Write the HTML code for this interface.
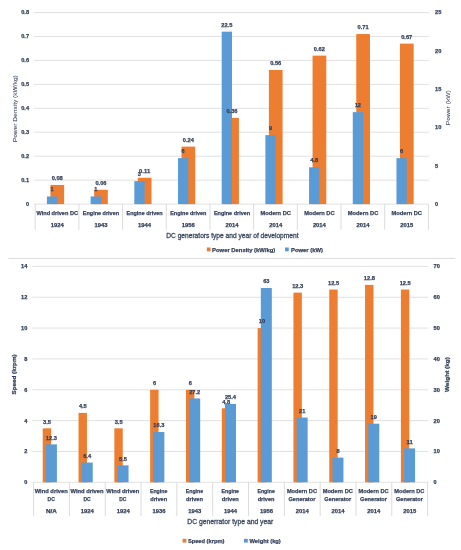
<!DOCTYPE html>
<html><head><meta charset="utf-8"><title>DC generator charts</title>
<style>
html,body{margin:0;padding:0;background:#fff;}
svg{display:block;font-family:"Liberation Sans",sans-serif;}
</style></head>
<body>
<svg width="461" height="550" viewBox="0 0 461 550">
<rect x="0" y="0" width="461" height="550" fill="#ffffff"/>
<g shape-rendering="auto">
<line x1="34.00" y1="204.10" x2="428.90" y2="204.10" stroke="#DCDCDC" stroke-width="0.85"/>
<line x1="34.00" y1="180.15" x2="428.90" y2="180.15" stroke="#DCDCDC" stroke-width="0.85"/>
<line x1="34.00" y1="156.20" x2="428.90" y2="156.20" stroke="#DCDCDC" stroke-width="0.85"/>
<line x1="34.00" y1="132.25" x2="428.90" y2="132.25" stroke="#DCDCDC" stroke-width="0.85"/>
<line x1="34.00" y1="108.30" x2="428.90" y2="108.30" stroke="#DCDCDC" stroke-width="0.85"/>
<line x1="34.00" y1="84.35" x2="428.90" y2="84.35" stroke="#DCDCDC" stroke-width="0.85"/>
<line x1="34.00" y1="60.40" x2="428.90" y2="60.40" stroke="#DCDCDC" stroke-width="0.85"/>
<line x1="34.00" y1="36.45" x2="428.90" y2="36.45" stroke="#DCDCDC" stroke-width="0.85"/>
<line x1="34.00" y1="12.50" x2="428.90" y2="12.50" stroke="#DCDCDC" stroke-width="0.85"/>
<rect x="50.44" y="184.94" width="13.70" height="19.16" fill="#ED7D31"/>
<rect x="46.94" y="196.44" width="10.30" height="7.66" fill="#5B9BD5"/>
<rect x="94.13" y="189.73" width="13.70" height="14.37" fill="#ED7D31"/>
<rect x="90.63" y="196.44" width="10.30" height="7.66" fill="#5B9BD5"/>
<rect x="137.82" y="177.75" width="13.70" height="26.34" fill="#ED7D31"/>
<rect x="134.32" y="181.11" width="10.30" height="22.99" fill="#5B9BD5"/>
<rect x="181.51" y="146.62" width="13.70" height="57.48" fill="#ED7D31"/>
<rect x="178.01" y="158.12" width="10.30" height="45.98" fill="#5B9BD5"/>
<rect x="225.20" y="117.88" width="13.70" height="86.22" fill="#ED7D31"/>
<rect x="221.70" y="31.66" width="10.30" height="172.44" fill="#5B9BD5"/>
<rect x="268.89" y="69.98" width="13.70" height="134.12" fill="#ED7D31"/>
<rect x="265.39" y="135.12" width="10.30" height="68.98" fill="#5B9BD5"/>
<rect x="312.58" y="55.61" width="13.70" height="148.49" fill="#ED7D31"/>
<rect x="309.08" y="167.31" width="10.30" height="36.79" fill="#5B9BD5"/>
<rect x="356.27" y="34.06" width="13.70" height="170.04" fill="#ED7D31"/>
<rect x="352.77" y="112.13" width="10.30" height="91.97" fill="#5B9BD5"/>
<rect x="399.96" y="43.63" width="13.70" height="160.47" fill="#ED7D31"/>
<rect x="396.46" y="158.12" width="10.30" height="45.98" fill="#5B9BD5"/>
<line x1="35.20" y1="204.10" x2="35.20" y2="229.80" stroke="#DCDCDC" stroke-width="1"/>
<line x1="78.89" y1="204.10" x2="78.89" y2="229.80" stroke="#DCDCDC" stroke-width="1"/>
<line x1="122.58" y1="204.10" x2="122.58" y2="229.80" stroke="#DCDCDC" stroke-width="1"/>
<line x1="166.27" y1="204.10" x2="166.27" y2="229.80" stroke="#DCDCDC" stroke-width="1"/>
<line x1="209.96" y1="204.10" x2="209.96" y2="229.80" stroke="#DCDCDC" stroke-width="1"/>
<line x1="253.64" y1="204.10" x2="253.64" y2="229.80" stroke="#DCDCDC" stroke-width="1"/>
<line x1="297.33" y1="204.10" x2="297.33" y2="229.80" stroke="#DCDCDC" stroke-width="1"/>
<line x1="341.02" y1="204.10" x2="341.02" y2="229.80" stroke="#DCDCDC" stroke-width="1"/>
<line x1="384.71" y1="204.10" x2="384.71" y2="229.80" stroke="#DCDCDC" stroke-width="1"/>
<line x1="428.40" y1="204.10" x2="428.40" y2="229.80" stroke="#DCDCDC" stroke-width="1"/>
<rect x="206.80" y="247.50" width="3.80" height="3.80" fill="#ED7D31"/>
<rect x="285.00" y="247.50" width="3.80" height="3.80" fill="#5B9BD5"/>
<line x1="8.30" y1="258.40" x2="455.40" y2="258.40" stroke="#DCDCDC" stroke-width="1"/>
<line x1="32.40" y1="482.30" x2="428.10" y2="482.30" stroke="#DCDCDC" stroke-width="0.85"/>
<line x1="32.40" y1="451.46" x2="428.10" y2="451.46" stroke="#DCDCDC" stroke-width="0.85"/>
<line x1="32.40" y1="420.61" x2="428.10" y2="420.61" stroke="#DCDCDC" stroke-width="0.85"/>
<line x1="32.40" y1="389.77" x2="428.10" y2="389.77" stroke="#DCDCDC" stroke-width="0.85"/>
<line x1="32.40" y1="358.93" x2="428.10" y2="358.93" stroke="#DCDCDC" stroke-width="0.85"/>
<line x1="32.40" y1="328.09" x2="428.10" y2="328.09" stroke="#DCDCDC" stroke-width="0.85"/>
<line x1="32.40" y1="297.24" x2="428.10" y2="297.24" stroke="#DCDCDC" stroke-width="0.85"/>
<line x1="32.40" y1="266.40" x2="428.10" y2="266.40" stroke="#DCDCDC" stroke-width="0.85"/>
<rect x="42.71" y="428.32" width="8.40" height="53.98" fill="#ED7D31"/>
<rect x="45.91" y="444.36" width="11.00" height="37.94" fill="#5B9BD5"/>
<rect x="78.53" y="412.90" width="8.40" height="69.40" fill="#ED7D31"/>
<rect x="81.73" y="462.56" width="11.00" height="19.74" fill="#5B9BD5"/>
<rect x="114.35" y="428.32" width="8.40" height="53.98" fill="#ED7D31"/>
<rect x="117.55" y="465.34" width="11.00" height="16.96" fill="#5B9BD5"/>
<rect x="150.16" y="389.77" width="8.40" height="92.53" fill="#ED7D31"/>
<rect x="153.36" y="432.03" width="11.00" height="50.27" fill="#5B9BD5"/>
<rect x="185.98" y="389.77" width="8.40" height="92.53" fill="#ED7D31"/>
<rect x="189.18" y="398.41" width="11.00" height="83.89" fill="#5B9BD5"/>
<rect x="221.80" y="408.28" width="8.40" height="74.02" fill="#ED7D31"/>
<rect x="225.00" y="403.96" width="11.00" height="78.34" fill="#5B9BD5"/>
<rect x="257.62" y="328.09" width="8.40" height="154.21" fill="#ED7D31"/>
<rect x="260.82" y="287.99" width="11.00" height="194.31" fill="#5B9BD5"/>
<rect x="293.44" y="292.62" width="8.40" height="189.68" fill="#ED7D31"/>
<rect x="296.64" y="417.53" width="11.00" height="64.77" fill="#5B9BD5"/>
<rect x="329.25" y="289.53" width="8.40" height="192.77" fill="#ED7D31"/>
<rect x="332.45" y="457.63" width="11.00" height="24.67" fill="#5B9BD5"/>
<rect x="365.07" y="284.91" width="8.40" height="197.39" fill="#ED7D31"/>
<rect x="368.27" y="423.70" width="11.00" height="58.60" fill="#5B9BD5"/>
<rect x="400.89" y="289.53" width="8.40" height="192.77" fill="#ED7D31"/>
<rect x="404.09" y="448.37" width="11.00" height="33.93" fill="#5B9BD5"/>
<line x1="33.60" y1="482.30" x2="33.60" y2="516.00" stroke="#DCDCDC" stroke-width="1"/>
<line x1="69.42" y1="482.30" x2="69.42" y2="516.00" stroke="#DCDCDC" stroke-width="1"/>
<line x1="105.24" y1="482.30" x2="105.24" y2="516.00" stroke="#DCDCDC" stroke-width="1"/>
<line x1="141.05" y1="482.30" x2="141.05" y2="516.00" stroke="#DCDCDC" stroke-width="1"/>
<line x1="176.87" y1="482.30" x2="176.87" y2="516.00" stroke="#DCDCDC" stroke-width="1"/>
<line x1="212.69" y1="482.30" x2="212.69" y2="516.00" stroke="#DCDCDC" stroke-width="1"/>
<line x1="248.51" y1="482.30" x2="248.51" y2="516.00" stroke="#DCDCDC" stroke-width="1"/>
<line x1="284.33" y1="482.30" x2="284.33" y2="516.00" stroke="#DCDCDC" stroke-width="1"/>
<line x1="320.15" y1="482.30" x2="320.15" y2="516.00" stroke="#DCDCDC" stroke-width="1"/>
<line x1="355.96" y1="482.30" x2="355.96" y2="516.00" stroke="#DCDCDC" stroke-width="1"/>
<line x1="391.78" y1="482.30" x2="391.78" y2="516.00" stroke="#DCDCDC" stroke-width="1"/>
<line x1="427.60" y1="482.30" x2="427.60" y2="516.00" stroke="#DCDCDC" stroke-width="1"/>
<rect x="182.60" y="538.80" width="3.80" height="3.80" fill="#ED7D31"/>
<rect x="244.00" y="538.80" width="3.80" height="3.80" fill="#5B9BD5"/>
</g>
<defs><filter id="soft" x="-5%" y="-5%" width="110%" height="110%"><feGaussianBlur stdDeviation="0.3"/></filter></defs>
<g filter="url(#soft)">
<text x="29.10" y="206.09" font-size="5.8" text-anchor="end" font-weight="bold" stroke="#333F58" stroke-width="0.25" textLength="3.1" lengthAdjust="spacingAndGlyphs" fill="#333F58">0</text>
<text x="29.10" y="182.14" font-size="5.8" text-anchor="end" font-weight="bold" stroke="#333F58" stroke-width="0.25" textLength="7.9" lengthAdjust="spacingAndGlyphs" fill="#333F58">0.1</text>
<text x="29.10" y="158.19" font-size="5.8" text-anchor="end" font-weight="bold" stroke="#333F58" stroke-width="0.25" textLength="7.9" lengthAdjust="spacingAndGlyphs" fill="#333F58">0.2</text>
<text x="29.10" y="134.24" font-size="5.8" text-anchor="end" font-weight="bold" stroke="#333F58" stroke-width="0.25" textLength="7.9" lengthAdjust="spacingAndGlyphs" fill="#333F58">0.3</text>
<text x="29.10" y="110.29" font-size="5.8" text-anchor="end" font-weight="bold" stroke="#333F58" stroke-width="0.25" textLength="7.9" lengthAdjust="spacingAndGlyphs" fill="#333F58">0.4</text>
<text x="29.10" y="86.34" font-size="5.8" text-anchor="end" font-weight="bold" stroke="#333F58" stroke-width="0.25" textLength="7.9" lengthAdjust="spacingAndGlyphs" fill="#333F58">0.5</text>
<text x="29.10" y="62.39" font-size="5.8" text-anchor="end" font-weight="bold" stroke="#333F58" stroke-width="0.25" textLength="7.9" lengthAdjust="spacingAndGlyphs" fill="#333F58">0.6</text>
<text x="29.10" y="38.44" font-size="5.8" text-anchor="end" font-weight="bold" stroke="#333F58" stroke-width="0.25" textLength="7.9" lengthAdjust="spacingAndGlyphs" fill="#333F58">0.7</text>
<text x="29.10" y="14.49" font-size="5.8" text-anchor="end" font-weight="bold" stroke="#333F58" stroke-width="0.25" textLength="7.9" lengthAdjust="spacingAndGlyphs" fill="#333F58">0.8</text>
<text x="435.00" y="205.99" font-size="5.8" text-anchor="start" font-weight="bold" stroke="#333F58" stroke-width="0.25" textLength="3.1" lengthAdjust="spacingAndGlyphs" fill="#333F58">0</text>
<text x="435.00" y="167.67" font-size="5.8" text-anchor="start" font-weight="bold" stroke="#333F58" stroke-width="0.25" textLength="3.1" lengthAdjust="spacingAndGlyphs" fill="#333F58">5</text>
<text x="435.00" y="129.35" font-size="5.8" text-anchor="start" font-weight="bold" stroke="#333F58" stroke-width="0.25" textLength="6.3" lengthAdjust="spacingAndGlyphs" fill="#333F58">10</text>
<text x="435.00" y="91.03" font-size="5.8" text-anchor="start" font-weight="bold" stroke="#333F58" stroke-width="0.25" textLength="6.3" lengthAdjust="spacingAndGlyphs" fill="#333F58">15</text>
<text x="435.00" y="52.71" font-size="5.8" text-anchor="start" font-weight="bold" stroke="#333F58" stroke-width="0.25" textLength="6.3" lengthAdjust="spacingAndGlyphs" fill="#333F58">20</text>
<text x="435.00" y="14.39" font-size="5.8" text-anchor="start" font-weight="bold" stroke="#333F58" stroke-width="0.25" textLength="6.3" lengthAdjust="spacingAndGlyphs" fill="#333F58">25</text>
<text x="57.24" y="180.03" font-size="5.8" text-anchor="middle" font-weight="bold" stroke="#333F58" stroke-width="0.25" textLength="11.1" lengthAdjust="spacingAndGlyphs" fill="#333F58">0.08</text>
<text x="52.04" y="191.32" font-size="5.8" text-anchor="middle" font-weight="bold" stroke="#333F58" stroke-width="0.25" textLength="3.1" lengthAdjust="spacingAndGlyphs" fill="#333F58">1</text>
<text x="57.24" y="214.76" font-size="6.0" text-anchor="middle" font-weight="bold" stroke="#333F58" stroke-width="0.25" textLength="41.5" lengthAdjust="spacingAndGlyphs" fill="#333F58">Wind driven DC</text>
<text x="57.24" y="227.22" font-size="5.9" text-anchor="middle" font-weight="bold" stroke="#333F58" stroke-width="0.25" textLength="13.0" lengthAdjust="spacingAndGlyphs" fill="#333F58">1924</text>
<text x="100.93" y="184.82" font-size="5.8" text-anchor="middle" font-weight="bold" stroke="#333F58" stroke-width="0.25" textLength="11.1" lengthAdjust="spacingAndGlyphs" fill="#333F58">0.06</text>
<text x="95.73" y="191.32" font-size="5.8" text-anchor="middle" font-weight="bold" stroke="#333F58" stroke-width="0.25" textLength="3.1" lengthAdjust="spacingAndGlyphs" fill="#333F58">1</text>
<text x="100.93" y="214.76" font-size="6.0" text-anchor="middle" font-weight="bold" stroke="#333F58" stroke-width="0.25" textLength="36.2" lengthAdjust="spacingAndGlyphs" fill="#333F58">Engine driven</text>
<text x="100.93" y="227.22" font-size="5.9" text-anchor="middle" font-weight="bold" stroke="#333F58" stroke-width="0.25" textLength="13.0" lengthAdjust="spacingAndGlyphs" fill="#333F58">1943</text>
<text x="144.62" y="172.84" font-size="5.8" text-anchor="middle" font-weight="bold" stroke="#333F58" stroke-width="0.25" textLength="11.1" lengthAdjust="spacingAndGlyphs" fill="#333F58">0.11</text>
<text x="139.42" y="176.00" font-size="5.8" text-anchor="middle" font-weight="bold" stroke="#333F58" stroke-width="0.25" textLength="3.1" lengthAdjust="spacingAndGlyphs" fill="#333F58">3</text>
<text x="144.62" y="214.76" font-size="6.0" text-anchor="middle" font-weight="bold" stroke="#333F58" stroke-width="0.25" textLength="36.2" lengthAdjust="spacingAndGlyphs" fill="#333F58">Engine driven</text>
<text x="144.62" y="227.22" font-size="5.9" text-anchor="middle" font-weight="bold" stroke="#333F58" stroke-width="0.25" textLength="13.0" lengthAdjust="spacingAndGlyphs" fill="#333F58">1944</text>
<text x="188.31" y="141.71" font-size="5.8" text-anchor="middle" font-weight="bold" stroke="#333F58" stroke-width="0.25" textLength="11.1" lengthAdjust="spacingAndGlyphs" fill="#333F58">0.24</text>
<text x="183.11" y="153.00" font-size="5.8" text-anchor="middle" font-weight="bold" stroke="#333F58" stroke-width="0.25" textLength="3.1" lengthAdjust="spacingAndGlyphs" fill="#333F58">6</text>
<text x="188.31" y="214.76" font-size="6.0" text-anchor="middle" font-weight="bold" stroke="#333F58" stroke-width="0.25" textLength="36.2" lengthAdjust="spacingAndGlyphs" fill="#333F58">Engine driven</text>
<text x="188.31" y="227.22" font-size="5.9" text-anchor="middle" font-weight="bold" stroke="#333F58" stroke-width="0.25" textLength="13.0" lengthAdjust="spacingAndGlyphs" fill="#333F58">1956</text>
<text x="232.00" y="112.97" font-size="5.8" text-anchor="middle" font-weight="bold" stroke="#333F58" stroke-width="0.25" textLength="11.1" lengthAdjust="spacingAndGlyphs" fill="#333F58">0.36</text>
<text x="226.80" y="26.55" font-size="5.8" text-anchor="middle" font-weight="bold" stroke="#333F58" stroke-width="0.25" textLength="11.1" lengthAdjust="spacingAndGlyphs" fill="#333F58">22.5</text>
<text x="232.00" y="214.76" font-size="6.0" text-anchor="middle" font-weight="bold" stroke="#333F58" stroke-width="0.25" textLength="36.2" lengthAdjust="spacingAndGlyphs" fill="#333F58">Engine driven</text>
<text x="232.00" y="227.22" font-size="5.9" text-anchor="middle" font-weight="bold" stroke="#333F58" stroke-width="0.25" textLength="13.0" lengthAdjust="spacingAndGlyphs" fill="#333F58">2014</text>
<text x="275.69" y="65.07" font-size="5.8" text-anchor="middle" font-weight="bold" stroke="#333F58" stroke-width="0.25" textLength="11.1" lengthAdjust="spacingAndGlyphs" fill="#333F58">0.56</text>
<text x="270.49" y="130.01" font-size="5.8" text-anchor="middle" font-weight="bold" stroke="#333F58" stroke-width="0.25" textLength="3.1" lengthAdjust="spacingAndGlyphs" fill="#333F58">9</text>
<text x="275.69" y="214.76" font-size="6.0" text-anchor="middle" font-weight="bold" stroke="#333F58" stroke-width="0.25" textLength="30.4" lengthAdjust="spacingAndGlyphs" fill="#333F58">Modern DC</text>
<text x="275.69" y="227.22" font-size="5.9" text-anchor="middle" font-weight="bold" stroke="#333F58" stroke-width="0.25" textLength="13.0" lengthAdjust="spacingAndGlyphs" fill="#333F58">2014</text>
<text x="319.38" y="50.70" font-size="5.8" text-anchor="middle" font-weight="bold" stroke="#333F58" stroke-width="0.25" textLength="11.1" lengthAdjust="spacingAndGlyphs" fill="#333F58">0.62</text>
<text x="314.18" y="162.20" font-size="5.8" text-anchor="middle" font-weight="bold" stroke="#333F58" stroke-width="0.25" textLength="7.9" lengthAdjust="spacingAndGlyphs" fill="#333F58">4.8</text>
<text x="319.38" y="214.76" font-size="6.0" text-anchor="middle" font-weight="bold" stroke="#333F58" stroke-width="0.25" textLength="30.4" lengthAdjust="spacingAndGlyphs" fill="#333F58">Modern DC</text>
<text x="319.38" y="227.22" font-size="5.9" text-anchor="middle" font-weight="bold" stroke="#333F58" stroke-width="0.25" textLength="13.0" lengthAdjust="spacingAndGlyphs" fill="#333F58">2014</text>
<text x="363.07" y="29.14" font-size="5.8" text-anchor="middle" font-weight="bold" stroke="#333F58" stroke-width="0.25" textLength="11.1" lengthAdjust="spacingAndGlyphs" fill="#333F58">0.71</text>
<text x="357.87" y="107.02" font-size="5.8" text-anchor="middle" font-weight="bold" stroke="#333F58" stroke-width="0.25" textLength="6.3" lengthAdjust="spacingAndGlyphs" fill="#333F58">12</text>
<text x="363.07" y="214.76" font-size="6.0" text-anchor="middle" font-weight="bold" stroke="#333F58" stroke-width="0.25" textLength="30.4" lengthAdjust="spacingAndGlyphs" fill="#333F58">Modern DC</text>
<text x="363.07" y="227.22" font-size="5.9" text-anchor="middle" font-weight="bold" stroke="#333F58" stroke-width="0.25" textLength="13.0" lengthAdjust="spacingAndGlyphs" fill="#333F58">2014</text>
<text x="406.76" y="38.72" font-size="5.8" text-anchor="middle" font-weight="bold" stroke="#333F58" stroke-width="0.25" textLength="11.1" lengthAdjust="spacingAndGlyphs" fill="#333F58">0.67</text>
<text x="401.56" y="153.00" font-size="5.8" text-anchor="middle" font-weight="bold" stroke="#333F58" stroke-width="0.25" textLength="3.1" lengthAdjust="spacingAndGlyphs" fill="#333F58">6</text>
<text x="406.76" y="214.76" font-size="6.0" text-anchor="middle" font-weight="bold" stroke="#333F58" stroke-width="0.25" textLength="30.4" lengthAdjust="spacingAndGlyphs" fill="#333F58">Modern DC</text>
<text x="406.76" y="227.22" font-size="5.9" text-anchor="middle" font-weight="bold" stroke="#333F58" stroke-width="0.25" textLength="13.0" lengthAdjust="spacingAndGlyphs" fill="#333F58">2015</text>
<text x="232.40" y="237.61" font-size="6.7" text-anchor="middle" stroke="#3A465E" stroke-width="0.28" textLength="132.3" lengthAdjust="spacingAndGlyphs" fill="#3A465E">DC generators type and year of development</text>
<text x="212.10" y="251.56" font-size="6.0" text-anchor="start" font-weight="bold" stroke="#333F58" stroke-width="0.25" textLength="63.2" lengthAdjust="spacingAndGlyphs" fill="#333F58">Power Density (kW/kg)</text>
<text x="291.00" y="251.56" font-size="6.0" text-anchor="start" font-weight="bold" stroke="#333F58" stroke-width="0.25" textLength="32.0" lengthAdjust="spacingAndGlyphs" fill="#333F58">Power (kW)</text>
<text transform="translate(14.30,108.70) rotate(-90)" x="0" y="2.23" font-size="6.2" text-anchor="middle" stroke="#4A5468" stroke-width="0.1" textLength="67.0" lengthAdjust="spacingAndGlyphs" fill="#4A5468">Power Density (kW/kg)</text>
<text transform="translate(448.10,107.70) rotate(-90)" x="0" y="2.23" font-size="6.2" text-anchor="middle" stroke="#4A5468" stroke-width="0.1" textLength="35.0" lengthAdjust="spacingAndGlyphs" fill="#4A5468">Power (kW)</text>
<text x="27.40" y="484.25" font-size="5.7" text-anchor="end" font-weight="bold" stroke="#333F58" stroke-width="0.25" textLength="3.1" lengthAdjust="spacingAndGlyphs" fill="#333F58">0</text>
<text x="433.60" y="484.25" font-size="5.7" text-anchor="start" font-weight="bold" stroke="#333F58" stroke-width="0.25" textLength="3.1" lengthAdjust="spacingAndGlyphs" fill="#333F58">0</text>
<text x="27.40" y="453.41" font-size="5.7" text-anchor="end" font-weight="bold" stroke="#333F58" stroke-width="0.25" textLength="3.1" lengthAdjust="spacingAndGlyphs" fill="#333F58">2</text>
<text x="433.60" y="453.41" font-size="5.7" text-anchor="start" font-weight="bold" stroke="#333F58" stroke-width="0.25" textLength="6.3" lengthAdjust="spacingAndGlyphs" fill="#333F58">10</text>
<text x="27.40" y="422.57" font-size="5.7" text-anchor="end" font-weight="bold" stroke="#333F58" stroke-width="0.25" textLength="3.1" lengthAdjust="spacingAndGlyphs" fill="#333F58">4</text>
<text x="433.60" y="422.57" font-size="5.7" text-anchor="start" font-weight="bold" stroke="#333F58" stroke-width="0.25" textLength="6.3" lengthAdjust="spacingAndGlyphs" fill="#333F58">20</text>
<text x="27.40" y="391.72" font-size="5.7" text-anchor="end" font-weight="bold" stroke="#333F58" stroke-width="0.25" textLength="3.1" lengthAdjust="spacingAndGlyphs" fill="#333F58">6</text>
<text x="433.60" y="391.72" font-size="5.7" text-anchor="start" font-weight="bold" stroke="#333F58" stroke-width="0.25" textLength="6.3" lengthAdjust="spacingAndGlyphs" fill="#333F58">30</text>
<text x="27.40" y="360.88" font-size="5.7" text-anchor="end" font-weight="bold" stroke="#333F58" stroke-width="0.25" textLength="3.1" lengthAdjust="spacingAndGlyphs" fill="#333F58">8</text>
<text x="433.60" y="360.88" font-size="5.7" text-anchor="start" font-weight="bold" stroke="#333F58" stroke-width="0.25" textLength="6.3" lengthAdjust="spacingAndGlyphs" fill="#333F58">40</text>
<text x="27.40" y="330.04" font-size="5.7" text-anchor="end" font-weight="bold" stroke="#333F58" stroke-width="0.25" textLength="6.3" lengthAdjust="spacingAndGlyphs" fill="#333F58">10</text>
<text x="433.60" y="330.04" font-size="5.7" text-anchor="start" font-weight="bold" stroke="#333F58" stroke-width="0.25" textLength="6.3" lengthAdjust="spacingAndGlyphs" fill="#333F58">50</text>
<text x="27.40" y="299.19" font-size="5.7" text-anchor="end" font-weight="bold" stroke="#333F58" stroke-width="0.25" textLength="6.3" lengthAdjust="spacingAndGlyphs" fill="#333F58">12</text>
<text x="433.60" y="299.19" font-size="5.7" text-anchor="start" font-weight="bold" stroke="#333F58" stroke-width="0.25" textLength="6.3" lengthAdjust="spacingAndGlyphs" fill="#333F58">60</text>
<text x="27.40" y="268.35" font-size="5.7" text-anchor="end" font-weight="bold" stroke="#333F58" stroke-width="0.25" textLength="6.3" lengthAdjust="spacingAndGlyphs" fill="#333F58">14</text>
<text x="433.60" y="268.35" font-size="5.7" text-anchor="start" font-weight="bold" stroke="#333F58" stroke-width="0.25" textLength="6.3" lengthAdjust="spacingAndGlyphs" fill="#333F58">70</text>
<text x="47.01" y="423.61" font-size="5.8" text-anchor="middle" font-weight="bold" stroke="#333F58" stroke-width="0.25" textLength="7.9" lengthAdjust="spacingAndGlyphs" fill="#333F58">3.5</text>
<text x="51.41" y="439.75" font-size="5.8" text-anchor="middle" font-weight="bold" stroke="#333F58" stroke-width="0.25" textLength="11.1" lengthAdjust="spacingAndGlyphs" fill="#333F58">12.3</text>
<text x="51.21" y="492.96" font-size="6.0" text-anchor="middle" font-weight="bold" stroke="#333F58" stroke-width="0.25" textLength="33.0" lengthAdjust="spacingAndGlyphs" fill="#333F58">Wind driven</text>
<text x="51.21" y="501.16" font-size="6.0" text-anchor="middle" font-weight="bold" stroke="#333F58" stroke-width="0.25" textLength="7.2" lengthAdjust="spacingAndGlyphs" fill="#333F58">DC</text>
<text x="51.51" y="513.22" font-size="5.9" text-anchor="middle" font-weight="bold" stroke="#333F58" stroke-width="0.25" textLength="10.9" lengthAdjust="spacingAndGlyphs" fill="#333F58">N/A</text>
<text x="82.83" y="408.19" font-size="5.8" text-anchor="middle" font-weight="bold" stroke="#333F58" stroke-width="0.25" textLength="7.9" lengthAdjust="spacingAndGlyphs" fill="#333F58">4.5</text>
<text x="87.23" y="457.95" font-size="5.8" text-anchor="middle" font-weight="bold" stroke="#333F58" stroke-width="0.25" textLength="7.9" lengthAdjust="spacingAndGlyphs" fill="#333F58">6.4</text>
<text x="87.03" y="492.96" font-size="6.0" text-anchor="middle" font-weight="bold" stroke="#333F58" stroke-width="0.25" textLength="33.0" lengthAdjust="spacingAndGlyphs" fill="#333F58">Wind driven</text>
<text x="87.03" y="501.16" font-size="6.0" text-anchor="middle" font-weight="bold" stroke="#333F58" stroke-width="0.25" textLength="7.2" lengthAdjust="spacingAndGlyphs" fill="#333F58">DC</text>
<text x="87.33" y="513.22" font-size="5.9" text-anchor="middle" font-weight="bold" stroke="#333F58" stroke-width="0.25" textLength="13.0" lengthAdjust="spacingAndGlyphs" fill="#333F58">1924</text>
<text x="118.65" y="423.61" font-size="5.8" text-anchor="middle" font-weight="bold" stroke="#333F58" stroke-width="0.25" textLength="7.9" lengthAdjust="spacingAndGlyphs" fill="#333F58">3.5</text>
<text x="123.05" y="460.72" font-size="5.8" text-anchor="middle" font-weight="bold" stroke="#333F58" stroke-width="0.25" textLength="7.9" lengthAdjust="spacingAndGlyphs" fill="#333F58">5.5</text>
<text x="122.85" y="492.96" font-size="6.0" text-anchor="middle" font-weight="bold" stroke="#333F58" stroke-width="0.25" textLength="33.0" lengthAdjust="spacingAndGlyphs" fill="#333F58">Wind driven</text>
<text x="122.85" y="501.16" font-size="6.0" text-anchor="middle" font-weight="bold" stroke="#333F58" stroke-width="0.25" textLength="7.2" lengthAdjust="spacingAndGlyphs" fill="#333F58">DC</text>
<text x="123.15" y="513.22" font-size="5.9" text-anchor="middle" font-weight="bold" stroke="#333F58" stroke-width="0.25" textLength="13.0" lengthAdjust="spacingAndGlyphs" fill="#333F58">1924</text>
<text x="154.46" y="385.06" font-size="5.8" text-anchor="middle" font-weight="bold" stroke="#333F58" stroke-width="0.25" textLength="3.1" lengthAdjust="spacingAndGlyphs" fill="#333F58">6</text>
<text x="158.86" y="427.41" font-size="5.8" text-anchor="middle" font-weight="bold" stroke="#333F58" stroke-width="0.25" textLength="11.1" lengthAdjust="spacingAndGlyphs" fill="#333F58">16.3</text>
<text x="158.66" y="492.96" font-size="6.0" text-anchor="middle" font-weight="bold" stroke="#333F58" stroke-width="0.25" textLength="17.4" lengthAdjust="spacingAndGlyphs" fill="#333F58">Engine</text>
<text x="158.66" y="501.16" font-size="6.0" text-anchor="middle" font-weight="bold" stroke="#333F58" stroke-width="0.25" textLength="16.9" lengthAdjust="spacingAndGlyphs" fill="#333F58">driven</text>
<text x="158.96" y="513.22" font-size="5.9" text-anchor="middle" font-weight="bold" stroke="#333F58" stroke-width="0.25" textLength="13.0" lengthAdjust="spacingAndGlyphs" fill="#333F58">1936</text>
<text x="190.28" y="385.06" font-size="5.8" text-anchor="middle" font-weight="bold" stroke="#333F58" stroke-width="0.25" textLength="3.1" lengthAdjust="spacingAndGlyphs" fill="#333F58">6</text>
<text x="194.68" y="393.80" font-size="5.8" text-anchor="middle" font-weight="bold" stroke="#333F58" stroke-width="0.25" textLength="11.1" lengthAdjust="spacingAndGlyphs" fill="#333F58">27.2</text>
<text x="194.48" y="492.96" font-size="6.0" text-anchor="middle" font-weight="bold" stroke="#333F58" stroke-width="0.25" textLength="17.4" lengthAdjust="spacingAndGlyphs" fill="#333F58">Engine</text>
<text x="194.48" y="501.16" font-size="6.0" text-anchor="middle" font-weight="bold" stroke="#333F58" stroke-width="0.25" textLength="16.9" lengthAdjust="spacingAndGlyphs" fill="#333F58">driven</text>
<text x="194.78" y="513.22" font-size="5.9" text-anchor="middle" font-weight="bold" stroke="#333F58" stroke-width="0.25" textLength="13.0" lengthAdjust="spacingAndGlyphs" fill="#333F58">1943</text>
<text x="226.10" y="403.57" font-size="5.8" text-anchor="middle" font-weight="bold" stroke="#333F58" stroke-width="0.25" textLength="7.9" lengthAdjust="spacingAndGlyphs" fill="#333F58">4.8</text>
<text x="230.50" y="399.35" font-size="5.8" text-anchor="middle" font-weight="bold" stroke="#333F58" stroke-width="0.25" textLength="11.1" lengthAdjust="spacingAndGlyphs" fill="#333F58">25.4</text>
<text x="230.30" y="492.96" font-size="6.0" text-anchor="middle" font-weight="bold" stroke="#333F58" stroke-width="0.25" textLength="17.4" lengthAdjust="spacingAndGlyphs" fill="#333F58">Engine</text>
<text x="230.30" y="501.16" font-size="6.0" text-anchor="middle" font-weight="bold" stroke="#333F58" stroke-width="0.25" textLength="16.9" lengthAdjust="spacingAndGlyphs" fill="#333F58">driven</text>
<text x="230.60" y="513.22" font-size="5.9" text-anchor="middle" font-weight="bold" stroke="#333F58" stroke-width="0.25" textLength="13.0" lengthAdjust="spacingAndGlyphs" fill="#333F58">1944</text>
<text x="261.92" y="323.37" font-size="5.8" text-anchor="middle" font-weight="bold" stroke="#333F58" stroke-width="0.25" textLength="6.3" lengthAdjust="spacingAndGlyphs" fill="#333F58">10</text>
<text x="266.32" y="283.38" font-size="5.8" text-anchor="middle" font-weight="bold" stroke="#333F58" stroke-width="0.25" textLength="6.3" lengthAdjust="spacingAndGlyphs" fill="#333F58">63</text>
<text x="266.12" y="492.96" font-size="6.0" text-anchor="middle" font-weight="bold" stroke="#333F58" stroke-width="0.25" textLength="17.4" lengthAdjust="spacingAndGlyphs" fill="#333F58">Engine</text>
<text x="266.12" y="501.16" font-size="6.0" text-anchor="middle" font-weight="bold" stroke="#333F58" stroke-width="0.25" textLength="16.9" lengthAdjust="spacingAndGlyphs" fill="#333F58">driven</text>
<text x="266.42" y="513.22" font-size="5.9" text-anchor="middle" font-weight="bold" stroke="#333F58" stroke-width="0.25" textLength="13.0" lengthAdjust="spacingAndGlyphs" fill="#333F58">1956</text>
<text x="297.74" y="287.90" font-size="5.8" text-anchor="middle" font-weight="bold" stroke="#333F58" stroke-width="0.25" textLength="11.1" lengthAdjust="spacingAndGlyphs" fill="#333F58">12.3</text>
<text x="302.14" y="412.92" font-size="5.8" text-anchor="middle" font-weight="bold" stroke="#333F58" stroke-width="0.25" textLength="6.3" lengthAdjust="spacingAndGlyphs" fill="#333F58">21</text>
<text x="301.94" y="492.96" font-size="6.0" text-anchor="middle" font-weight="bold" stroke="#333F58" stroke-width="0.25" textLength="30.1" lengthAdjust="spacingAndGlyphs" fill="#333F58">Modern DC</text>
<text x="301.94" y="501.16" font-size="6.0" text-anchor="middle" font-weight="bold" stroke="#333F58" stroke-width="0.25" textLength="26.9" lengthAdjust="spacingAndGlyphs" fill="#333F58">Generator</text>
<text x="302.24" y="513.22" font-size="5.9" text-anchor="middle" font-weight="bold" stroke="#333F58" stroke-width="0.25" textLength="13.0" lengthAdjust="spacingAndGlyphs" fill="#333F58">2014</text>
<text x="333.55" y="284.82" font-size="5.8" text-anchor="middle" font-weight="bold" stroke="#333F58" stroke-width="0.25" textLength="11.1" lengthAdjust="spacingAndGlyphs" fill="#333F58">12.5</text>
<text x="337.95" y="453.01" font-size="5.8" text-anchor="middle" font-weight="bold" stroke="#333F58" stroke-width="0.25" textLength="3.1" lengthAdjust="spacingAndGlyphs" fill="#333F58">8</text>
<text x="337.75" y="492.96" font-size="6.0" text-anchor="middle" font-weight="bold" stroke="#333F58" stroke-width="0.25" textLength="30.1" lengthAdjust="spacingAndGlyphs" fill="#333F58">Modern DC</text>
<text x="337.75" y="501.16" font-size="6.0" text-anchor="middle" font-weight="bold" stroke="#333F58" stroke-width="0.25" textLength="26.9" lengthAdjust="spacingAndGlyphs" fill="#333F58">Generator</text>
<text x="338.05" y="513.22" font-size="5.9" text-anchor="middle" font-weight="bold" stroke="#333F58" stroke-width="0.25" textLength="13.0" lengthAdjust="spacingAndGlyphs" fill="#333F58">2014</text>
<text x="369.37" y="280.19" font-size="5.8" text-anchor="middle" font-weight="bold" stroke="#333F58" stroke-width="0.25" textLength="11.1" lengthAdjust="spacingAndGlyphs" fill="#333F58">12.8</text>
<text x="373.77" y="419.09" font-size="5.8" text-anchor="middle" font-weight="bold" stroke="#333F58" stroke-width="0.25" textLength="6.3" lengthAdjust="spacingAndGlyphs" fill="#333F58">19</text>
<text x="373.57" y="492.96" font-size="6.0" text-anchor="middle" font-weight="bold" stroke="#333F58" stroke-width="0.25" textLength="30.1" lengthAdjust="spacingAndGlyphs" fill="#333F58">Modern DC</text>
<text x="373.57" y="501.16" font-size="6.0" text-anchor="middle" font-weight="bold" stroke="#333F58" stroke-width="0.25" textLength="26.9" lengthAdjust="spacingAndGlyphs" fill="#333F58">Generator</text>
<text x="373.87" y="513.22" font-size="5.9" text-anchor="middle" font-weight="bold" stroke="#333F58" stroke-width="0.25" textLength="13.0" lengthAdjust="spacingAndGlyphs" fill="#333F58">2014</text>
<text x="405.19" y="284.82" font-size="5.8" text-anchor="middle" font-weight="bold" stroke="#333F58" stroke-width="0.25" textLength="11.1" lengthAdjust="spacingAndGlyphs" fill="#333F58">12.5</text>
<text x="409.59" y="443.76" font-size="5.8" text-anchor="middle" font-weight="bold" stroke="#333F58" stroke-width="0.25" textLength="6.3" lengthAdjust="spacingAndGlyphs" fill="#333F58">11</text>
<text x="409.39" y="492.96" font-size="6.0" text-anchor="middle" font-weight="bold" stroke="#333F58" stroke-width="0.25" textLength="30.1" lengthAdjust="spacingAndGlyphs" fill="#333F58">Modern DC</text>
<text x="409.39" y="501.16" font-size="6.0" text-anchor="middle" font-weight="bold" stroke="#333F58" stroke-width="0.25" textLength="26.9" lengthAdjust="spacingAndGlyphs" fill="#333F58">Generator</text>
<text x="409.69" y="513.22" font-size="5.9" text-anchor="middle" font-weight="bold" stroke="#333F58" stroke-width="0.25" textLength="13.0" lengthAdjust="spacingAndGlyphs" fill="#333F58">2015</text>
<text x="230.30" y="523.81" font-size="6.7" text-anchor="middle" stroke="#3A465E" stroke-width="0.28" textLength="86.0" lengthAdjust="spacingAndGlyphs" fill="#3A465E">DC generrator type and year</text>
<text x="187.90" y="542.56" font-size="6.0" text-anchor="start" font-weight="bold" stroke="#333F58" stroke-width="0.25" textLength="36.5" lengthAdjust="spacingAndGlyphs" fill="#333F58">Speed (krpm)</text>
<text x="249.50" y="542.56" font-size="6.0" text-anchor="start" font-weight="bold" stroke="#333F58" stroke-width="0.25" textLength="31.3" lengthAdjust="spacingAndGlyphs" fill="#333F58">Weight (kg)</text>
<text transform="translate(13.80,374.40) rotate(-90)" x="0" y="2.23" font-size="6.2" text-anchor="middle" font-weight="bold" stroke="#333F58" stroke-width="0.25" textLength="40.0" lengthAdjust="spacingAndGlyphs" fill="#333F58">Speed (krpm)</text>
<text transform="translate(446.80,374.60) rotate(-90)" x="0" y="2.23" font-size="6.2" text-anchor="middle" font-weight="bold" stroke="#333F58" stroke-width="0.25" textLength="35.0" lengthAdjust="spacingAndGlyphs" fill="#333F58">Weight (kg)</text>
</g>
</svg>
</body></html>
